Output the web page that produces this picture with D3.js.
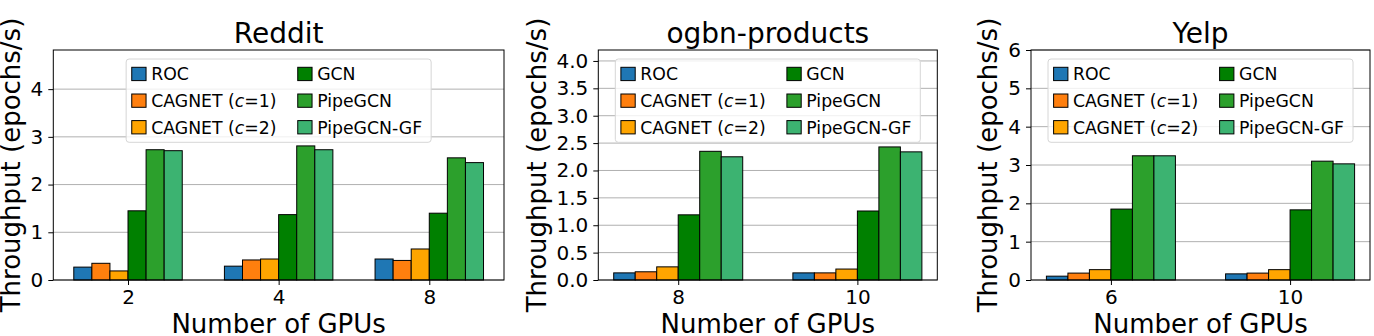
<!DOCTYPE html>
<html>
<head>
<meta charset="utf-8">
<script src="https://cdn.jsdelivr.net/npm/d3@7"></script>
<style>
  html, body { margin: 0; padding: 0; background: #fff; }
  svg { display: block; font-family: "DejaVu Sans", sans-serif; }
</style>
</head>
<body>
<svg id="chart" width="1374" height="336"></svg>
<script>
// ---- Data ----
const seriesNames = ["ROC", "CAGNET (c=1)", "CAGNET (c=2)", "GCN", "PipeGCN", "PipeGCN-GF"];
const seriesColors = ["#1f77b4", "#ff7f0e", "#ffa500", "#008000", "#2ca02c", "#3cb371"];

const redditGPUs = ["2", "4", "8"];
const redditROC = [0.27, 0.29, 0.44];
const redditCAGNET1 = [0.35, 0.42, 0.41];
const redditCAGNET2 = [0.19, 0.44, 0.65];
const redditGCN = [1.45, 1.37, 1.40];
const redditPipeGCN = [2.73, 2.81, 2.56];
const redditPipeGCNGF = [2.71, 2.73, 2.46];
const redditTicks = [0, 1, 2, 3, 4];

const productsGPUs = ["8", "10"];
const productsROC = [0.13, 0.13];
const productsCAGNET1 = [0.15, 0.13];
const productsCAGNET2 = [0.24, 0.20];
const productsGCN = [1.19, 1.26];
const productsPipeGCN = [2.35, 2.43];
const productsPipeGCNGF = [2.25, 2.34];
const productsTicks = [0, 0.5, 1.0, 1.5, 2.0, 2.5, 3.0, 3.5, 4.0];

const yelpGPUs = ["6", "10"];
const yelpROC = [0.10, 0.16];
const yelpCAGNET1 = [0.18, 0.18];
const yelpCAGNET2 = [0.27, 0.27];
const yelpGCN = [1.85, 1.83];
const yelpPipeGCN = [3.24, 3.10];
const yelpPipeGCNGF = [3.24, 3.03];
const yelpTicks = [0, 1, 2, 3, 4, 5, 6];

const panels = [
  { title: "Reddit", cats: redditGPUs, ymax: 4.82, ticks: redditTicks, fmt: d3.format("d"),
    series: [redditROC, redditCAGNET1, redditCAGNET2, redditGCN, redditPipeGCN, redditPipeGCNGF],
    x0: 53.3, x1: 504, ylabOff: 33.3 },
  { title: "ogbn-products", cats: productsGPUs, ymax: 4.2, ticks: productsTicks, fmt: d3.format(".1f"),
    series: [productsROC, productsCAGNET1, productsCAGNET2, productsGCN, productsPipeGCN, productsPipeGCNGF],
    x0: 598.3, x1: 937.3, ylabOff: 52.3 },
  { title: "Yelp", cats: yelpGPUs, ymax: 6, ticks: yelpTicks, fmt: d3.format("d"),
    series: [yelpROC, yelpCAGNET1, yelpCAGNET2, yelpGCN, yelpPipeGCN, yelpPipeGCNGF],
    x0: 1031, x1: 1370, ylabOff: 34 }
];

// ---- Layout ----
const plotTop = 50, plotBottom = 280;
const barW = 0.12;
const tickFont = 20, labelFont = 26, titleFont = 28, legendFont = 17.3;

const svg = d3.select("#chart");

panels.forEach(p => {
  const n = p.cats.length;
  const lo = -3 * barW, hi = (n - 1) + 3 * barW;
  const m = 0.05 * (hi - lo);
  const x = d3.scaleLinear().domain([lo - m, hi + m]).range([p.x0, p.x1]);
  const y = d3.scaleLinear().domain([0, p.ymax]).range([plotBottom, plotTop]);
  const g = svg.append("g");

  // grid
  g.append("g").selectAll("line").data(p.ticks).join("line")
    .attr("x1", p.x0).attr("x2", p.x1)
    .attr("y1", d => y(d)).attr("y2", d => y(d))
    .attr("stroke", "#b0b0b0").attr("stroke-width", 1);

  // bars
  p.series.forEach((vals, si) => {
    g.append("g").selectAll("rect").data(vals).join("rect")
      .attr("x", (d, i) => x(i + (si - 3) * barW))
      .attr("width", (d, i) => x(i + (si - 2) * barW) - x(i + (si - 3) * barW))
      .attr("y", d => y(d))
      .attr("height", d => plotBottom - y(d))
      .attr("fill", seriesColors[si])
      .attr("stroke", "#000").attr("stroke-width", 1);
  });

  // axes
  const yAxis = d3.axisLeft(y).tickValues(p.ticks).tickFormat(p.fmt).tickSize(5).tickPadding(5);
  const ya = g.append("g").attr("transform", `translate(${p.x0},0)`).call(yAxis);
  const xAxis = d3.axisBottom(x).tickValues(d3.range(n)).tickFormat(i => p.cats[i]).tickSize(5).tickPadding(5);
  const xa = g.append("g").attr("transform", `translate(0,${plotBottom})`).call(xAxis);
  [ya, xa].forEach(a => {
    a.select(".domain").remove();
    a.selectAll("text").attr("font-size", tickFont).attr("font-family", "DejaVu Sans").attr("fill", "#000");
    a.selectAll("line").attr("stroke", "#000");
  });

  // frame
  g.append("rect").attr("x", p.x0).attr("y", plotTop).attr("width", p.x1 - p.x0).attr("height", plotBottom - plotTop)
    .attr("fill", "none").attr("stroke", "#000").attr("stroke-width", 1);

  // title
  g.append("text").attr("x", (p.x0 + p.x1) / 2).attr("y", 42.7)
    .attr("text-anchor", "middle").attr("font-size", titleFont).text(p.title);

  // x label
  g.append("text").attr("x", (p.x0 + p.x1) / 2).attr("y", 333)
    .attr("text-anchor", "middle").attr("font-size", labelFont).text("Number of GPUs");

  // y label
  g.append("text")
    .attr("transform", `translate(${p.x0 - p.ylabOff},${(plotTop + plotBottom) / 2}) rotate(-90)`)
    .attr("text-anchor", "middle").attr("font-size", labelFont).text("Throughput (epochs/s)");

  // legend
  const lw = 305, lh = 83.3;
  const lx = (p.x0 + p.x1) / 2 - lw / 2, ly = plotTop + 9;
  const lg = g.append("g").attr("transform", `translate(${lx},${ly})`);
  lg.append("rect").attr("width", lw).attr("height", lh).attr("rx", 3)
    .attr("fill", "#fff").attr("fill-opacity", 0.8).attr("stroke", "#d6d6d6").attr("stroke-width", 1);
  const colX = [5.6, 171.6], rowY = [15, 41.7, 68.3];
  seriesNames.forEach((name, si) => {
    const c = Math.floor(si / 3), r = si % 3;
    lg.append("rect").attr("x", colX[c]).attr("y", rowY[r] - 6.7).attr("width", 14.3).attr("height", 13.3)
      .attr("fill", seriesColors[si]).attr("stroke", "#000").attr("stroke-width", 1);
    const t = lg.append("text").attr("x", colX[c] + 19.4).attr("y", rowY[r]).attr("dy", "0.36em")
      .attr("font-size", legendFont);
    const mm = name.match(/^(.*\()c(=.*)$/);
    if (mm) {
      t.append("tspan").text(mm[1]);
      t.append("tspan").attr("font-style", "italic").text("c");
      t.append("tspan").text(mm[2]);
    } else {
      t.text(name);
    }
  });
});
</script>
</body>
</html>
